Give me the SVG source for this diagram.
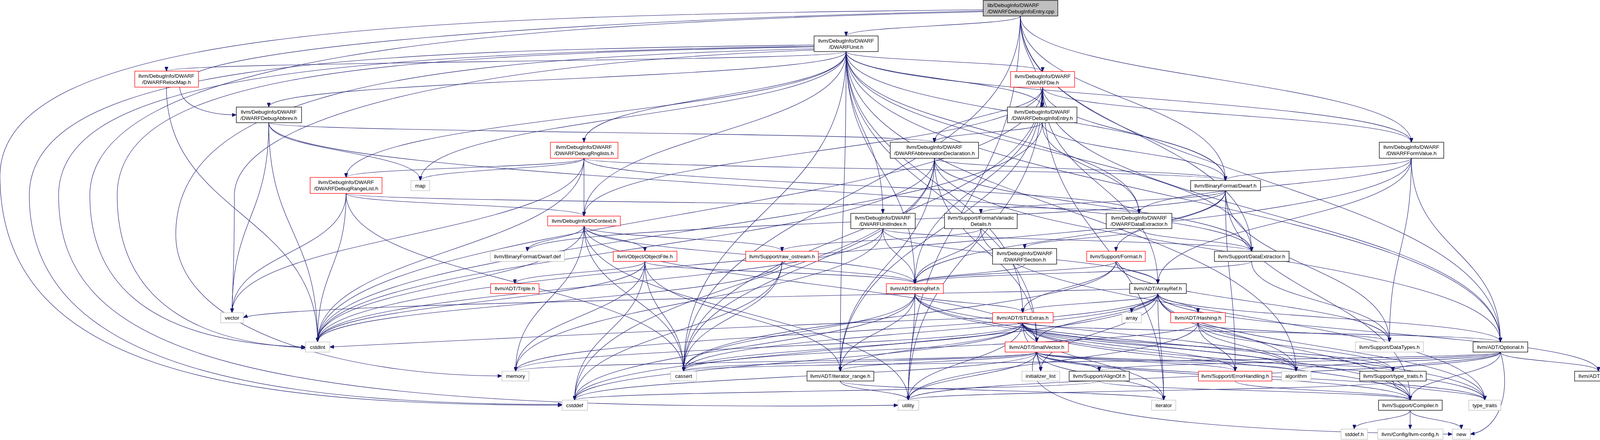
<svg xmlns="http://www.w3.org/2000/svg" width="4263" height="1126" viewBox="0 0 4263 1126">
<style>
.n rect{fill:#fff;stroke:#000;stroke-width:1.3}
.r rect{stroke:#ff0000}
.g rect{stroke:#bfbfbf}
.root rect{fill:#bfbfbf}
text{font-family:"Liberation Sans",Arial,sans-serif;font-size:13.5px;fill:#000;text-anchor:middle}
.root text{text-anchor:start}
#edges path{fill:none;stroke:#191970;stroke-width:1.1;marker-end:url(#a)}
</style>
<defs><marker id="a" markerUnits="userSpaceOnUse" markerWidth="12" markerHeight="9" refX="11" refY="4.5" orient="auto"><path d="M0,0L11,4.5L0,9z" fill="#191970" stroke="#191970"/></marker></defs>
<rect width="4263" height="1126" fill="#fff"/>
<g id="edges">
<path d="M2612 41C2612 66 2166 66 2166 92"/>
<path d="M2612 41C2612 157 2668 157 2668 274"/>
<path d="M2517 28C1500 50 460 120 460 220C460 280 550 294 605 294"/>
<path d="M2612 41C2612 202 3613 202 3613 364"/>
<path d="M2612 41C2612 251 3137 251 3137 462"/>
<path d="M2612 41C2612 458 3841 458 3841 875"/>
<path d="M2612 41C2612 342 3204 342 3204 643"/>
<path d="M2517 30C1200 60 230 150 230 500C230 800 500 880 782 888"/>
<path d="M2612 41C2612 495 1750 495 1750 950"/>
<path d="M2517 25C1000 40 0 80 0 450C0 950 600 1037 1439 1037"/>
<path d="M2612 41C2612 532 2325 532 2325 1024"/>
<path d="M2166 132C2166 157 426 157 426 182"/>
<path d="M2166 132C2166 157 2669 157 2669 183"/>
<path d="M2166 132C2166 203 2668 203 2668 274"/>
<path d="M2166 132C2166 203 688 203 688 274"/>
<path d="M2166 132C2166 248 1495 248 1495 364"/>
<path d="M2166 132C2166 293 886 293 886 454"/>
<path d="M2166 132C2166 342 1495 342 1495 553"/>
<path d="M2166 132C2166 339 2260 339 2260 546"/>
<path d="M2166 132C2166 248 3613 248 3613 364"/>
<path d="M2166 132C2166 297 3137 297 3137 462"/>
<path d="M2166 132C2166 339 2916 339 2916 546"/>
<path d="M2166 132C2166 387 3204 387 3204 643"/>
<path d="M2166 132C2166 429 2342 429 2342 726"/>
<path d="M2166 132C2166 466 2618 466 2618 800"/>
<path d="M2166 132C2166 503 2654 503 2654 875"/>
<path d="M2166 132C2166 541 2151 541 2151 950"/>
<path d="M2166 132C2166 503 3841 503 3841 875"/>
<path d="M2166 132C2166 297 1076 297 1076 462"/>
<path d="M2084 128C1200 160 600 300 600 500C600 700 594 760 594 800"/>
<path d="M2084 125C1000 150 450 250 450 600C450 850 900 962 1285 962"/>
<path d="M2166 132C2166 541 1750 541 1750 950"/>
<path d="M2084 120C900 140 300 200 300 500C300 800 550 880 782 890"/>
<path d="M2084 115C900 130 75 160 75 500C75 950 700 1035 1439 1035"/>
<path d="M2084 118C800 140 150 200 150 500C150 900 600 1060 2299 1037"/>
<path d="M2166 132C2166 541 3318 541 3318 950"/>
<path d="M2669 223C2669 248 2668 248 2668 274"/>
<path d="M2669 223C2669 388 1495 388 1495 553"/>
<path d="M2669 223C2669 342 3137 342 3137 462"/>
<path d="M2669 223C2669 293 3613 293 3613 364"/>
<path d="M2669 223C2669 474 2342 474 2342 726"/>
<path d="M2669 223C2669 586 2151 586 2151 950"/>
<path d="M2669 223C2669 549 3841 549 3841 875"/>
<path d="M2669 223C2669 474 2964 474 2964 726"/>
<path d="M2669 223C2669 549 813 549 813 875"/>
<path d="M2669 223C2669 586 1750 586 1750 950"/>
<path d="M2669 223C2669 623 2979 623 2979 1024"/>
<path d="M2669 223C2669 623 2325 623 2325 1024"/>
<path d="M2669 223C2669 293 2392 293 2392 364"/>
<path d="M2668 314C2668 339 2392 339 2392 364"/>
<path d="M2668 314C2668 388 3137 388 3137 462"/>
<path d="M2668 314C2668 430 2916 430 2916 546"/>
<path d="M2668 314C2668 594 813 594 813 875"/>
<path d="M688 314C688 339 2392 339 2392 364"/>
<path d="M688 314C688 388 1076 388 1076 462"/>
<path d="M688 314C688 557 594 557 594 800"/>
<path d="M688 314C688 594 813 594 813 875"/>
<path d="M688 314C688 478 3204 478 3204 643"/>
<path d="M426 223C426 549 813 549 813 875"/>
<path d="M1495 405C1495 429 886 429 886 454"/>
<path d="M1495 405C1495 479 1495 479 1495 553"/>
<path d="M1495 405C1495 433 1076 433 1076 462"/>
<path d="M1495 405C1495 602 594 602 594 800"/>
<path d="M1495 405C1495 640 813 640 813 875"/>
<path d="M1495 405C1495 433 3137 433 3137 462"/>
<path d="M1495 405C1495 475 2916 475 2916 546"/>
<path d="M886 495C886 524 1495 524 1495 553"/>
<path d="M886 495C886 647 594 647 594 800"/>
<path d="M886 495C886 685 813 685 813 875"/>
<path d="M886 495C886 722 1750 722 1750 950"/>
<path d="M886 495C886 520 2916 520 2916 546"/>
<path d="M2392 405C2392 433 3137 433 3137 462"/>
<path d="M2392 405C2392 640 3841 640 3841 875"/>
<path d="M2392 405C2392 640 2654 640 2654 875"/>
<path d="M2392 405C2392 677 2151 677 2151 950"/>
<path d="M2392 405C2392 524 3204 524 3204 643"/>
<path d="M2392 405C2392 677 1750 677 1750 950"/>
<path d="M2392 405C2392 714 1471 714 1471 1024"/>
<path d="M2392 405C2392 640 813 640 813 875"/>
<path d="M3613 405C3613 433 3137 433 3137 462"/>
<path d="M3613 405C3613 475 2916 475 2916 546"/>
<path d="M3613 405C3613 565 2964 565 2964 726"/>
<path d="M3613 405C3613 640 3841 640 3841 875"/>
<path d="M3613 405C3613 640 3557 640 3557 875"/>
<path d="M3613 405C3613 640 813 640 813 875"/>
<path d="M3137 488C3137 565 1350 565 1350 643"/>
<path d="M3137 488C3137 517 2511 517 2511 546"/>
<path d="M3137 488C3137 565 2857 565 2857 643"/>
<path d="M3137 488C3137 607 2342 607 2342 726"/>
<path d="M3137 488C3137 681 3557 681 3557 875"/>
<path d="M3137 488C3137 719 3162 719 3162 950"/>
<path d="M3137 488C3137 756 3610 756 3610 1024"/>
<path d="M1495 578C1495 610 1350 610 1350 643"/>
<path d="M1495 578C1495 610 1651 610 1651 643"/>
<path d="M1495 578C1495 610 2002 610 2002 643"/>
<path d="M1495 578C1495 726 2654 726 2654 875"/>
<path d="M1495 578C1495 652 2342 652 2342 726"/>
<path d="M1495 578C1495 764 1750 764 1750 950"/>
<path d="M1495 578C1495 726 813 726 813 875"/>
<path d="M1495 578C1495 764 1320 764 1320 950"/>
<path d="M1495 578C1495 801 2325 801 2325 1024"/>
<path d="M2260 585C2260 655 2342 655 2342 726"/>
<path d="M2260 585C2260 655 2964 655 2964 726"/>
<path d="M2260 585C2260 614 3204 614 3204 643"/>
<path d="M2260 585C2260 730 813 730 813 875"/>
<path d="M2260 585C2260 767 1320 767 1320 950"/>
<path d="M2511 585C2511 655 2342 655 2342 726"/>
<path d="M2511 585C2511 614 2002 614 2002 643"/>
<path d="M2511 585C2511 804 3801 804 3801 1024"/>
<path d="M2916 585C2916 610 2623 610 2623 636"/>
<path d="M2916 585C2916 614 3204 614 3204 643"/>
<path d="M1651 669C1651 697 1318 697 1318 726"/>
<path d="M1651 669C1651 697 2342 697 2342 726"/>
<path d="M1651 669C1651 809 2151 809 2151 950"/>
<path d="M1651 669C1651 809 1320 809 1320 950"/>
<path d="M1651 669C1651 809 1750 809 1750 950"/>
<path d="M1651 669C1651 772 813 772 813 875"/>
<path d="M1651 669C1651 846 1471 846 1471 1024"/>
<path d="M2002 669C2002 697 2342 697 2342 726"/>
<path d="M2002 669C2002 809 1750 809 1750 950"/>
<path d="M2002 669C2002 846 1471 846 1471 1024"/>
<path d="M2002 669C2002 772 813 772 813 875"/>
<path d="M2623 676C2623 701 2342 701 2342 726"/>
<path d="M3204 669C3204 697 2342 697 2342 726"/>
<path d="M3204 669C3204 772 3557 772 3557 875"/>
<path d="M2857 669C2857 697 2342 697 2342 726"/>
<path d="M2857 669C2857 697 2964 697 2964 726"/>
<path d="M2857 669C2857 734 2618 734 2618 800"/>
<path d="M2857 669C2857 772 3557 772 3557 875"/>
<path d="M2857 669C2857 809 1750 809 1750 950"/>
<path d="M2342 751C2342 775 2618 775 2618 800"/>
<path d="M2342 751C2342 850 2151 850 2151 950"/>
<path d="M2342 751C2342 887 3610 887 3610 1024"/>
<path d="M2342 751C2342 850 3318 850 3318 950"/>
<path d="M2342 751C2342 850 1750 850 1750 950"/>
<path d="M2342 751C2342 887 1471 887 1471 1024"/>
<path d="M2342 751C2342 887 3801 887 3801 1024"/>
<path d="M2342 751C2342 887 2325 887 2325 1024"/>
<path d="M2964 751C2964 775 3067 775 3067 800"/>
<path d="M2964 751C2964 813 2654 813 2654 875"/>
<path d="M2964 751C2964 775 2618 775 2618 800"/>
<path d="M2964 751C2964 850 4092 850 4092 950"/>
<path d="M2964 751C2964 813 3841 813 3841 875"/>
<path d="M2964 751C2964 887 3610 887 3610 1024"/>
<path d="M2964 751C2964 850 3318 850 3318 950"/>
<path d="M2964 751C2964 775 2897 775 2897 800"/>
<path d="M2964 751C2964 850 1750 850 1750 950"/>
<path d="M2964 751C2964 887 1471 887 1471 1024"/>
<path d="M2964 751C2964 850 2664 850 2664 950"/>
<path d="M2964 751C2964 887 2979 887 2979 1024"/>
<path d="M2964 751C2964 850 1320 850 1320 950"/>
<path d="M2964 751C2964 887 3801 887 3801 1024"/>
<path d="M2892 740C2000 760 700 780 623 813"/>
<path d="M3067 826C3067 888 3162 888 3162 950"/>
<path d="M3067 826C3067 850 3557 850 3557 875"/>
<path d="M3067 826C3067 888 3566 888 3566 950"/>
<path d="M3067 826C3067 888 3318 888 3318 950"/>
<path d="M3067 826C3067 888 1750 888 1750 950"/>
<path d="M3067 826C3067 925 2325 925 2325 1024"/>
<path d="M2618 826C2618 850 2654 850 2654 875"/>
<path d="M2618 826C2618 850 3841 850 3841 875"/>
<path d="M2618 826C2618 888 2151 888 2151 950"/>
<path d="M2618 826C2618 888 3162 888 3162 950"/>
<path d="M2618 826C2618 888 3318 888 3318 950"/>
<path d="M2618 826C2618 888 1750 888 1750 950"/>
<path d="M2618 826C2618 925 1471 925 1471 1024"/>
<path d="M2541 813C2000 830 1200 870 844 888"/>
<path d="M2618 826C2618 888 2664 888 2664 950"/>
<path d="M2618 826C2618 925 2979 925 2979 1024"/>
<path d="M2618 826C2618 888 1320 888 1320 950"/>
<path d="M2618 826C2618 888 3566 888 3566 950"/>
<path d="M2618 826C2618 925 2325 925 2325 1024"/>
<path d="M2618 826C2618 925 3801 925 3801 1024"/>
<path d="M2618 826C2618 925 3610 925 3610 1024"/>
<path d="M2654 901C2654 925 2151 925 2151 950"/>
<path d="M2654 901C2654 925 2814 925 2814 950"/>
<path d="M2654 901C2654 962 3610 962 3610 1024"/>
<path d="M2654 901C2654 925 3162 925 3162 950"/>
<path d="M2654 901C2654 925 3566 925 3566 950"/>
<path d="M2654 901C2654 925 3318 925 3318 950"/>
<path d="M2654 901C2654 925 1750 925 1750 950"/>
<path d="M2654 901C2654 962 1471 962 1471 1024"/>
<path d="M2654 901C2654 925 2664 925 2664 950"/>
<path d="M2654 901C2654 962 2979 962 2979 1024"/>
<path d="M2654 901C2654 925 1320 925 1320 950"/>
<path d="M2654 901C2600 1000 2700 1100 3718 1111"/>
<path d="M2654 901C2654 962 3801 962 3801 1024"/>
<path d="M2654 901C2654 962 2325 962 2325 1024"/>
<path d="M3841 901C3841 925 4092 925 4092 950"/>
<path d="M3841 901C3841 925 2814 925 2814 950"/>
<path d="M3841 901C3841 962 3610 962 3610 1024"/>
<path d="M3841 901C3841 925 3566 925 3566 950"/>
<path d="M3841 901C3841 925 3318 925 3318 950"/>
<path d="M3841 901C3841 925 1750 925 1750 950"/>
<path d="M3841 901C3870 1000 3840 1100 3764 1111"/>
<path d="M3841 901C3841 962 2325 962 2325 1024"/>
<path d="M2151 975C2151 1000 2979 1000 2979 1024"/>
<path d="M2151 975C2151 1000 2325 1000 2325 1024"/>
<path d="M2814 975C2814 1000 3610 1000 3610 1024"/>
<path d="M2814 975C2814 1000 1471 1000 1471 1024"/>
<path d="M3162 975C3162 1000 3610 1000 3610 1024"/>
<path d="M3566 975C3566 1000 3610 1000 3610 1024"/>
<path d="M3566 975C3566 1000 3801 1000 3801 1024"/>
<path d="M3566 975C3566 1000 2325 1000 2325 1024"/>
<path d="M3610 1050C3610 1074 3467 1074 3467 1098"/>
<path d="M3610 1050C3610 1074 3610 1074 3610 1098"/>
<path d="M3610 1050C3610 1074 3741 1074 3741 1098"/>
</g>
<g id="cpp" class="n root"><rect x="2517" y="1" width="191" height="40"/><text x="2528" y="18">lib/DebugInfo/DWARF</text><text x="2528" y="34">/DWARFDebugInfoEntry.cpp</text></g>
<g id="unit" class="n"><rect x="2084" y="92" width="164" height="40"/><text x="2166" y="109">llvm/DebugInfo/DWARF</text><text x="2166" y="125">/DWARFUnit.h</text></g>
<g id="reloc" class="n r"><rect x="345" y="182" width="163" height="41"/><text x="426" y="199">llvm/DebugInfo/DWARF</text><text x="426" y="215">/DWARFRelocMap.h</text></g>
<g id="die" class="n r"><rect x="2587" y="183" width="164" height="40"/><text x="2669" y="200">llvm/DebugInfo/DWARF</text><text x="2669" y="216">/DWARFDie.h</text></g>
<g id="abbrev" class="n"><rect x="605" y="274" width="167" height="40"/><text x="688" y="291">llvm/DebugInfo/DWARF</text><text x="688" y="307">/DWARFDebugAbbrev.h</text></g>
<g id="entry" class="n"><rect x="2579" y="274" width="178" height="40"/><text x="2668" y="291">llvm/DebugInfo/DWARF</text><text x="2668" y="307">/DWARFDebugInfoEntry.h</text></g>
<g id="rngl" class="n r"><rect x="1409" y="364" width="173" height="41"/><text x="1495" y="381">llvm/DebugInfo/DWARF</text><text x="1495" y="397">/DWARFDebugRnglists.h</text></g>
<g id="adecl" class="n"><rect x="2279" y="364" width="226" height="41"/><text x="2392" y="381">llvm/DebugInfo/DWARF</text><text x="2392" y="397">/DWARFAbbreviationDeclaration.h</text></g>
<g id="formv" class="n"><rect x="3531" y="364" width="165" height="41"/><text x="3613" y="381">llvm/DebugInfo/DWARF</text><text x="3613" y="397">/DWARFFormValue.h</text></g>
<g id="rangel" class="n r"><rect x="794" y="454" width="184" height="41"/><text x="886" y="471">llvm/DebugInfo/DWARF</text><text x="886" y="487">/DWARFDebugRangeList.h</text></g>
<g id="map" class="n g"><rect x="1052" y="462" width="48" height="26"/><text x="1076" y="480">map</text></g>
<g id="dwarfh" class="n"><rect x="3048" y="462" width="179" height="26"/><text x="3137" y="480">llvm/BinaryFormat/Dwarf.h</text></g>
<g id="dictx" class="n r"><rect x="1402" y="553" width="186" height="25"/><text x="1495" y="570">llvm/DebugInfo/DIContext.h</text></g>
<g id="uidx" class="n"><rect x="2178" y="546" width="165" height="39"/><text x="2260" y="562">llvm/DebugInfo/DWARF</text><text x="2260" y="578">/DWARFUnitIndex.h</text></g>
<g id="fvd" class="n"><rect x="2418" y="546" width="186" height="39"/><text x="2511" y="562">llvm/Support/FormatVariadic</text><text x="2511" y="578">Details.h</text></g>
<g id="dde" class="n"><rect x="2832" y="546" width="168" height="39"/><text x="2916" y="562">llvm/DebugInfo/DWARF</text><text x="2916" y="578">/DWARFDataExtractor.h</text></g>
<g id="ddef" class="n g"><rect x="1255" y="643" width="190" height="26"/><text x="1350" y="661">llvm/BinaryFormat/Dwarf.def</text></g>
<g id="objf" class="n r"><rect x="1570" y="643" width="163" height="26"/><text x="1651" y="661">llvm/Object/ObjectFile.h</text></g>
<g id="raw" class="n r"><rect x="1909" y="643" width="186" height="26"/><text x="2002" y="661">llvm/Support/raw_ostream.h</text></g>
<g id="sect" class="n"><rect x="2541" y="636" width="164" height="40"/><text x="2623" y="653">llvm/DebugInfo/DWARF</text><text x="2623" y="669">/DWARFSection.h</text></g>
<g id="fmt" class="n r"><rect x="2782" y="643" width="150" height="26"/><text x="2857" y="661">llvm/Support/Format.h</text></g>
<g id="sde" class="n"><rect x="3109" y="643" width="191" height="26"/><text x="3204" y="661">llvm/Support/DataExtractor.h</text></g>
<g id="triple" class="n r"><rect x="1256" y="726" width="124" height="25"/><text x="1318" y="743">llvm/ADT/Triple.h</text></g>
<g id="sref" class="n r"><rect x="2269" y="726" width="146" height="25"/><text x="2342" y="743">llvm/ADT/StringRef.h</text></g>
<g id="aref" class="n"><rect x="2892" y="726" width="145" height="25"/><text x="2964" y="743">llvm/ADT/ArrayRef.h</text></g>
<g id="vector" class="n g"><rect x="565" y="800" width="58" height="26"/><text x="594" y="818">vector</text></g>
<g id="stl" class="n r"><rect x="2541" y="800" width="155" height="26"/><text x="2618" y="818">llvm/ADT/STLExtras.h</text></g>
<g id="array" class="n g"><rect x="2872" y="800" width="50" height="26"/><text x="2897" y="818">array</text></g>
<g id="hash" class="n r"><rect x="2997" y="800" width="140" height="26"/><text x="3067" y="818">llvm/ADT/Hashing.h</text></g>
<g id="dtypes" class="n g"><rect x="3470" y="875" width="174" height="26"/><text x="3557" y="893">llvm/Support/DataTypes.h</text></g>
<g id="cstdint" class="n g"><rect x="782" y="875" width="62" height="26"/><text x="813" y="893">cstdint</text></g>
<g id="svec" class="n r"><rect x="2573" y="875" width="162" height="26"/><text x="2654" y="893">llvm/ADT/SmallVector.h</text></g>
<g id="opt" class="n"><rect x="3771" y="875" width="140" height="26"/><text x="3841" y="893">llvm/ADT/Optional.h</text></g>
<g id="memory" class="n g"><rect x="1285" y="950" width="69" height="25"/><text x="1320" y="967">memory</text></g>
<g id="cassert" class="n g"><rect x="1717" y="950" width="66" height="25"/><text x="1750" y="967">cassert</text></g>
<g id="itr" class="n"><rect x="2066" y="950" width="171" height="25"/><text x="2151" y="967">llvm/ADT/iterator_range.h</text></g>
<g id="initl" class="n g"><rect x="2616" y="950" width="97" height="25"/><text x="2664" y="967">initializer_list</text></g>
<g id="alignof" class="n"><rect x="2737" y="950" width="154" height="25"/><text x="2814" y="967">llvm/Support/AlignOf.h</text></g>
<g id="errh" class="n r"><rect x="3068" y="950" width="188" height="25"/><text x="3162" y="967">llvm/Support/ErrorHandling.h</text></g>
<g id="algo" class="n g"><rect x="3281" y="950" width="75" height="25"/><text x="3318" y="967">algorithm</text></g>
<g id="ttraitsh" class="n"><rect x="3481" y="950" width="170" height="25"/><text x="3566" y="967">llvm/Support/type_traits.h</text></g>
<g id="none" class="n"><rect x="4031" y="950" width="123" height="25"/><text x="4092" y="967">llvm/ADT/None.h</text></g>
<g id="cstddef" class="n g"><rect x="1439" y="1024" width="65" height="26"/><text x="1471" y="1042">cstddef</text></g>
<g id="utility" class="n g"><rect x="2299" y="1024" width="53" height="26"/><text x="2325" y="1042">utility</text></g>
<g id="iterator" class="n g"><rect x="2948" y="1024" width="62" height="26"/><text x="2979" y="1042">iterator</text></g>
<g id="compiler" class="n"><rect x="3529" y="1024" width="163" height="26"/><text x="3610" y="1042">llvm/Support/Compiler.h</text></g>
<g id="ttraits" class="n g"><rect x="3760" y="1024" width="82" height="26"/><text x="3801" y="1042">type_traits</text></g>
<g id="stddefh" class="n g"><rect x="3433" y="1098" width="68" height="26"/><text x="3467" y="1116">stddef.h</text></g>
<g id="config" class="n g"><rect x="3527" y="1098" width="167" height="26"/><text x="3610" y="1116">llvm/Config/llvm-config.h</text></g>
<g id="new" class="n g"><rect x="3718" y="1098" width="46" height="26"/><text x="3741" y="1116">new</text></g>
</svg>
